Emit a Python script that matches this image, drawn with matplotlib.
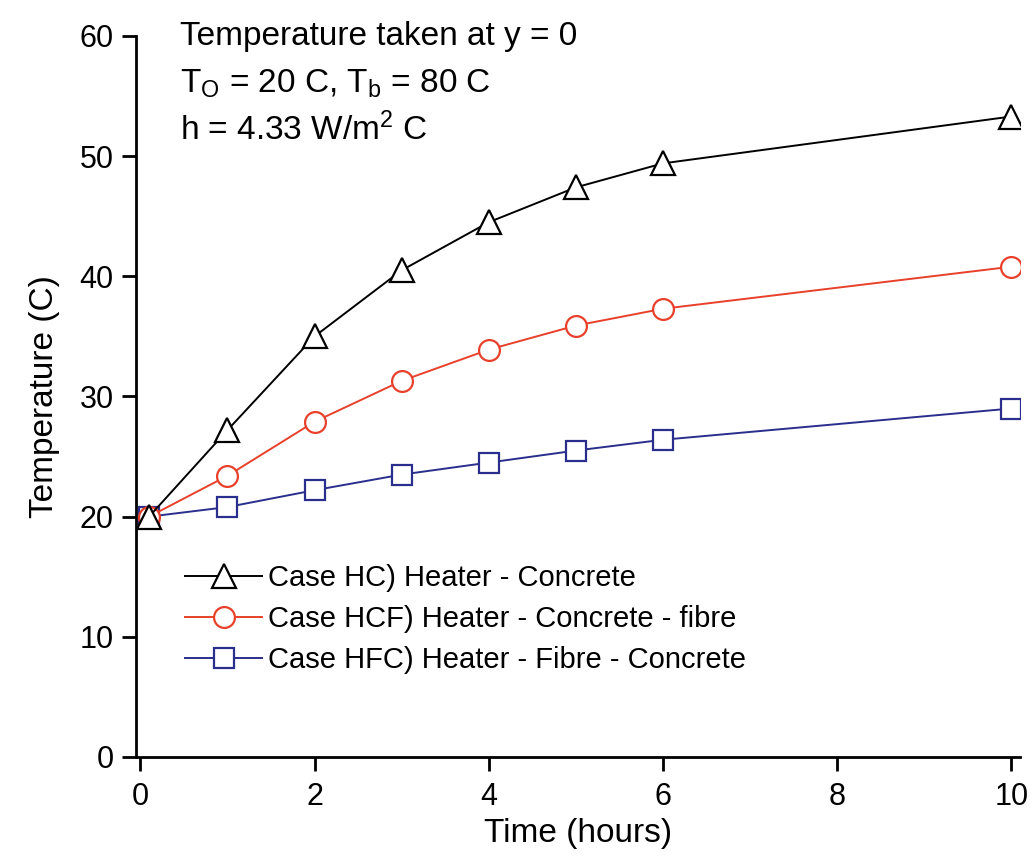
import numpy as np
import matplotlib
matplotlib.use("Agg")
import matplotlib.pyplot as plt

plt.rcParams['font.family'] = ['Liberation Sans', 'DejaVu Sans']
plt.rcParams['mathtext.fontset'] = 'custom'
plt.rcParams['mathtext.rm'] = 'Liberation Sans'
plt.rcParams['mathtext.it'] = 'Liberation Sans'

# data
time_h = [0.1, 1, 2, 3, 4, 5, 6, 10]
temp_hc = [20.0, 27.2, 35.0, 40.5, 44.5, 47.4, 49.4, 53.3]
temp_hcf = [20.0, 23.4, 27.9, 31.3, 33.9, 35.9, 37.3, 40.8]
temp_hfc = [20.0, 20.8, 22.2, 23.5, 24.5, 25.5, 26.4, 29.0]

labels = ['Case HC) Heater - Concrete',
          'Case HCF) Heater - Concrete - fibre',
          'Case HFC) Heater - Fibre - Concrete']

fig = plt.figure(figsize=(10.35, 8.57), dpi=100)
ax = fig.add_axes([0.1314, 0.1167, 0.9855 - 0.1314, 0.958 - 0.1167])

ax.plot(time_h, temp_hfc, color='#2a2e8c', lw=1.4, marker='s', ms=14,
        mfc='white', mec='#2a2e8c', mew=1.6, label=labels[2], zorder=3)
ax.plot(time_h, temp_hcf, color='#e8402a', lw=1.4, marker='o', ms=15,
        mfc='white', mec='#e8402a', mew=1.6, label=labels[1], zorder=4)
ax.plot(time_h, temp_hc, color='black', lw=1.4, marker='^', ms=17,
        mfc='white', mec='black', mew=1.6, label=labels[0], zorder=5)

ax.set_xlim(-0.05, 10.1)
ax.set_ylim(0, 60)
ax.set_xticks([0, 2, 4, 6, 8, 10])
ax.set_yticks([0, 10, 20, 30, 40, 50, 60])

for s in ['top', 'right']:
    ax.spines[s].set_visible(False)
for s in ['left', 'bottom']:
    ax.spines[s].set_linewidth(2)
ax.tick_params(direction='out', length=10, width=2, labelsize=22, pad=6)
ax.tick_params(axis='x', pad=8)

ax.set_xlabel('Time (hours)', fontsize=24, labelpad=4)
ax.set_ylabel('Temperature (C)', fontsize=24, labelpad=14)

# legend, ordered as in the picture
h, l = ax.get_legend_handles_labels()
leg = ax.legend(h[::-1], l[::-1], loc='upper left', bbox_to_anchor=(0.0554, 0.267),
                frameon=False, fontsize=21, handlelength=2.65, handletextpad=0.2,
                labelspacing=0.44, borderaxespad=0, borderpad=0)

# annotation text
ax.text(0.05, 0.9875, 'Temperature taken at y = 0', transform=ax.transAxes,
        fontsize=24, va='baseline', ha='left')
ax.text(0.05, 0.922, r'T$_{\mathregular{O}}$ = 20 C, T$_{\mathregular{b}}$ = 80 C',
        transform=ax.transAxes, fontsize=24, va='baseline', ha='left')
ax.text(0.05, 0.856, r'h = 4.33 W/m$^{\mathregular{2}}$ C', transform=ax.transAxes,
        fontsize=24, va='baseline', ha='left')

fig.savefig('out.png', dpi=100)
